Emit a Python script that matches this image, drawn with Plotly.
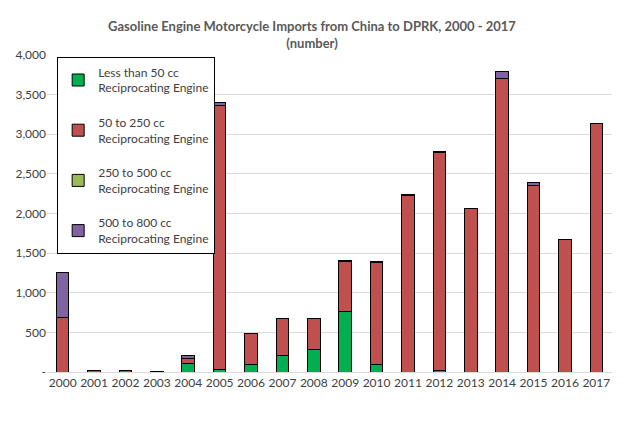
import plotly.graph_objects as go

years = [str(y) for y in range(2000, 2018)]
lt50 = [0, 0, 0, 0, 105, 30, 92, 211, 280, 766, 92, 0, 15, 0, 0, 0, 0, 0]
cc50_250 = [685, 25, 25, 0, 60, 3330, 388, 470, 389, 633, 1295, 2227, 2755, 2069, 3701, 2351, 1678, 3138]
cc250_500 = [0, 0, 0, 8, 0, 0, 0, 0, 0, 0, 0, 0, 0, 0, 0, 0, 0, 0]
cc500_800 = [565, 0, 0, 0, 40, 47, 0, 0, 0, 10, 10, 10, 15, 0, 97, 34, 0, 0]

series = [
    ("Less than 50 cc<br>Reciprocating Engine", lt50, "#00B050"),
    ("50 to 250 cc<br>Reciprocating Engine", cc50_250, "#C0504D"),
    ("250 to 500 cc<br>Reciprocating Engine", cc250_500, "#9BBB59"),
    ("500 to 800 cc<br>Reciprocating Engine", cc500_800, "#8064A2"),
]

fig = go.Figure()
for i, (name, vals, col) in enumerate(series):
    fig.add_trace(go.Bar(
        x=years, y=vals, name=name, legendgroup=f"g{i}",
        marker=dict(color=col, line=dict(color="#000000", width=1)),
    ))

yt = [0, 500, 1000, 1500, 2000, 2500, 3000, 3500, 4000]
ytext = ["-", "500", "1,000", "1,500", "2,000", "2,500", "3,000", "3,500", "4,000"]

fig.update_layout(
    width=624, height=423,
    barmode="stack", bargap=0.6,
    margin=dict(l=47, r=12, t=55, b=51),
    paper_bgcolor="white", plot_bgcolor="white",
    font=dict(family="Lato, Open Sans, sans-serif", size=12, color="#404040"),
    title=dict(
        text="<b>Gasoline Engine Motorcycle Imports from China to DPRK, 2000 - 2017</b><br><b>(number)</b>",
        x=0.5, xanchor="center", y=1 - 31 / 423, yanchor="middle",
        font=dict(size=13, color="#595959"),
    ),
    legend=dict(
        x=0.018, y=0.994, xanchor="left", yanchor="top",
        traceorder="grouped", tracegroupgap=16, itemwidth=30,
        bordercolor="#000000", borderwidth=1, bgcolor="white",
        font=dict(size=12, color="#404040"),
    ),
    xaxis=dict(
        type="category", showgrid=False, showline=True, linecolor="#D9D9D9",
        ticks="", tickfont=dict(size=12, color="#404040"),
    ),
    yaxis=dict(
        range=[0, 4000], tickvals=yt, ticktext=ytext,
        showgrid=True, gridcolor="#D9D9D9", zeroline=False,
        ticks="", tickfont=dict(size=12, color="#404040"),
    ),
)

fig.write_html("out.html")
